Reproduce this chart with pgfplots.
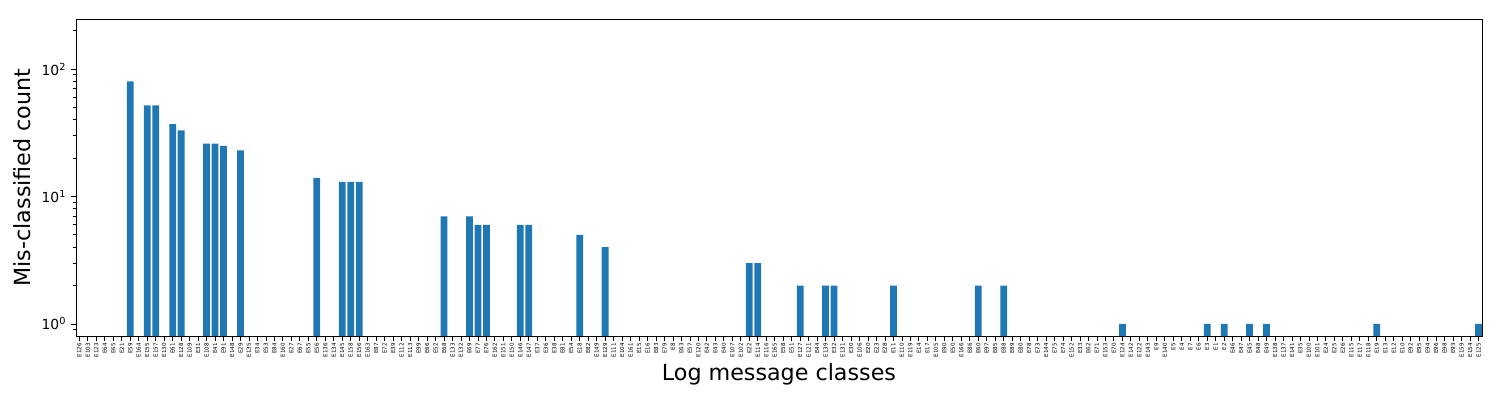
\documentclass[border=0pt]{standalone}
\usepackage{fontspec}
\setmainfont{DejaVu Sans}
\usepackage{pgfplots}
\pgfplotsset{compat=1.18}
\definecolor{mplblue}{HTML}{1F77B4}
\begin{document}
\begin{tikzpicture}
\useasboundingbox (0,0) rectangle (1080pt,288pt);
\begin{axis}[
 at={(54.7pt,46.1pt)}, anchor=south west,
 scale only axis, width=1012.3pt, height=228.2pt,
 ymode=log, log origin=infty,
 ymin=0.805, ymax=247,
 xmin=-0.4, xmax=165.4,
 ybar, bar width=0.8,
 xtick={0,...,165},
 xticklabels={E126,E103,E123,E64,E65,E21,E59,E164,E155,E157,E130,E61,E128,E109,E31,E108,E41,E91,E148,E29,E135,E34,E53,E84,E160,E27,E67,E55,E56,E136,E134,E145,E158,E156,E163,E87,E72,E39,E112,E113,E99,E66,E52,E68,E133,E132,E69,E77,E76,E162,E151,E150,E146,E147,E37,E36,E38,E81,E54,E18,E82,E149,E129,E111,E104,E161,E15,E16,E83,E79,E8,E63,E57,E120,E42,E43,E40,E107,E102,E22,E114,E116,E165,E58,E51,E127,E121,E44,E139,E32,E131,E30,E106,E20,E23,E28,E11,E110,E119,E14,E17,E105,E90,E50,E166,E86,E60,E97,E85,E88,E89,E80,E78,E73,E144,E75,E74,E152,E33,E62,E71,E153,E70,E124,E142,E122,E143,E9,E140,E5,E4,E7,E6,E3,E1,E2,E46,E47,E45,E48,E49,E138,E137,E141,E35,E100,E101,E24,E25,E26,E115,E117,E118,E19,E13,E12,E10,E92,E95,E94,E96,E98,E93,E159,E154,E125},
 xticklabel style={rotate=90, anchor=east, font=\fontsize{4}{4.5}\selectfont, inner sep=1.5pt},
 ytick={1,10,100},
 minor ytick={0.9,2,3,4,5,6,7,8,9,20,30,40,50,60,70,80,90,200},
 yticklabels={10\textsuperscript{0},10\textsuperscript{1},10\textsuperscript{2}},
 yticklabel style={font=\fontsize{10}{12}\selectfont},
 tick align=outside, tick pos=left,
 major tick length=3.5pt, minor tick length=2pt,
 every tick/.style={black, line width=0.6pt},
 axis line style={line width=0.6pt},
 every axis x label/.style={at={(axis description cs:0.5,0)}, yshift=-28pt, anchor=center},
 every axis y label/.style={at={(axis description cs:0,0.5)}, xshift=-39pt, rotate=90, anchor=center},
 xlabel={Log message classes}, ylabel={Mis-classified count},
 label style={font=\fontsize{16}{19}\selectfont},
]
\addplot[fill=mplblue, draw=none] coordinates {
(6,80) (8,52) (9,52) (11,37) (12,33) (15,26) (16,26) (17,25) (19,23)
(28,14) (31,13) (32,13) (33,13) (43,7) (46,7) (47,6) (48,6) (52,6) (53,6)
(59,5) (62,4) (79,3) (80,3) (85,2) (88,2) (89,2) (96,2) (106,2) (109,2)
(123,1) (133,1) (135,1) (138,1) (140,1) (153,1) (165,1)
};
\end{axis}
\end{tikzpicture}
\end{document}
